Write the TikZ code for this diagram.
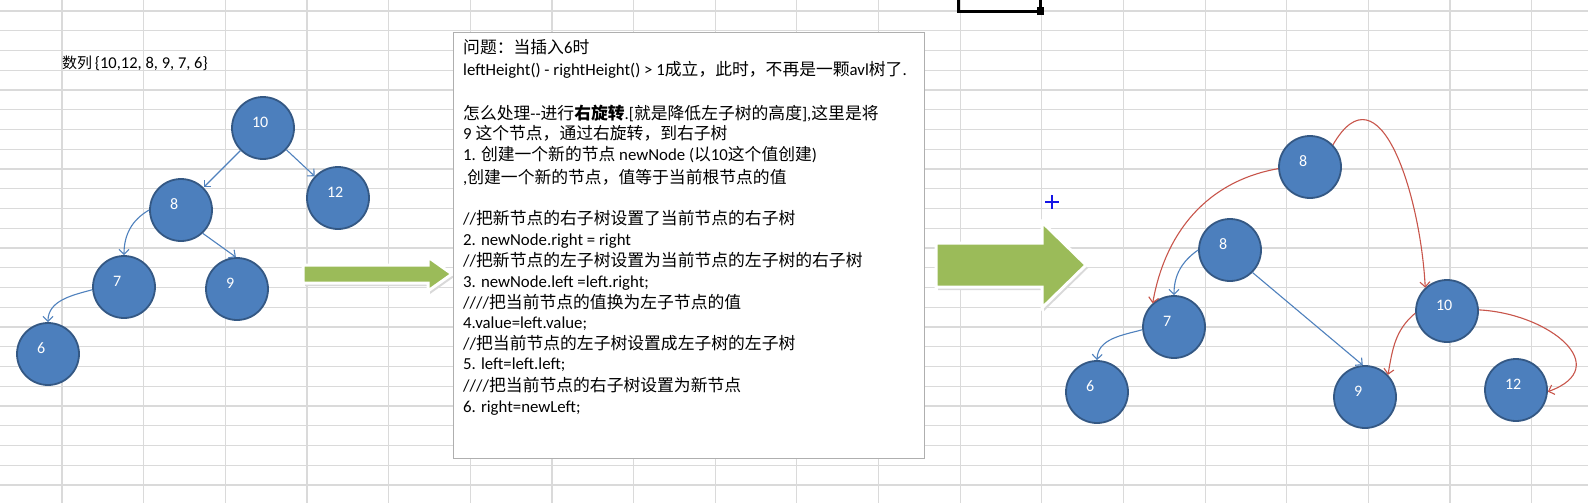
\documentclass[tikz,border=0pt]{standalone}
\usepackage{fontspec}
\setmainfont{Carlito}
\newfontfamily\cjk{Noto Sans CJK SC}
\usetikzlibrary{arrows.meta}
\definecolor{gridc}{RGB}{218,218,218}
\definecolor{nodefill}{RGB}{76,127,189}
\definecolor{nodeedge}{RGB}{52,88,132}
\definecolor{bluearr}{RGB}{79,129,189}
\definecolor{redarr}{RGB}{200,85,75}
\definecolor{greenarr}{RGB}{155,187,89}
\definecolor{boxedge}{RGB}{175,175,175}
\definecolor{plusblue}{RGB}{20,20,230}
\newcommand\zh[1]{{\cjk #1}}
\newcommand\lbl[1]{\makebox[0pt][l]{\hspace{-11pt}\raisebox{1pt}{#1}}}
\tikzset{
  circ/.style={circle, fill=nodefill, draw=nodeedge, line width=1.8pt, minimum size=62pt, inner sep=0pt,
    text=white, font=\fontsize{16}{18}\selectfont, text height=0pt, text depth=0pt},
  barr/.style={draw=bluearr, line width=1.1pt, -{Straight Barb[length=5pt,width=10pt]}},
  rarr/.style={draw=redarr, line width=1.1pt, -{Straight Barb[length=5pt,width=10pt]}},
  txtline/.style={anchor=base west, inner sep=0pt, font=\fontsize{16.8}{20}\selectfont},
  gridline/.style={draw=gridc, line width=1.2pt},
  fatarrow/.style={fill=greenarr, draw=white, line width=3pt, line join=miter,
    preaction={fill=black!15, transform canvas={xshift=2pt,yshift=-3pt}}}
}
\begin{document}
\begin{tikzpicture}[x=1pt,y=1pt]
\useasboundingbox (0,0) rectangle (1588,-503);
\fill[white] (0,0) rectangle (1588,-503);
% grid
\foreach \i in {0,...,18} \draw[gridline] ({62+81.65*\i},0) -- ++(0,-503);
\foreach \j in {0,...,24} \draw[gridline] (0,{-11-19.75*\j}) -- ++(1588,0);
% selected cell
\draw[black, line width=3pt] (958,0) -- (958,-11.5) -- (1040,-11.5) -- (1040,0);
\fill[black] (1036.5,-7.5) rectangle (1044,-15);
% blue plus
\draw[plusblue, line width=2.6pt] (1045,-202) -- (1059,-202) (1052,-195) -- (1052,-209);
% title
\node[anchor=base west, inner sep=0pt, font=\fontsize{16.5}{18}\selectfont] (title) at (62,-69)
  {{\cjk\fontsize{15}{18}\selectfont 数列}\,\{10,12, 8, 9, 7, 6\}};
% green arrows
\draw[fatarrow] (303,-265) -- (428,-265) -- (428,-257) -- (452,-274) -- (428,-291) -- (428,-283) -- (303,-283) -- cycle;
\draw[fatarrow] (936,-243) -- (1042,-243) -- (1042,-222) -- (1086,-265) -- (1042,-308) -- (1042,-287) -- (936,-287) -- cycle;
% text box
\node[draw=boxedge, fill=white, line width=1.3pt, minimum width=471pt, minimum height=426pt,
  anchor=north west, inner sep=0pt] (tbox) at (453,-32) {};
\node[txtline] (t1) at (463,-54) {\zh{问题：当插入}6\zh{时}};
\node[txtline] (t2) at (463,-76) {leftHeight() - rightHeight() > 1\zh{成立，此时，不再是一颗}avl\zh{树了}.};
\node[txtline] (t3) at (463,-119) {\zh{怎么处理}-{}-\zh{进行}{\cjk\bfseries 右旋转}.[\zh{就是降低左子树的高度}],\zh{这里是将}};
\node[txtline] (t4) at (463,-139) {9 \zh{这个节点，通过右旋转，到右子树}};
\node[txtline] (t5) at (463,-160) {1. \zh{创建一个新的节点} newNode (\zh{以}10\zh{这个值创建})};
\node[txtline] (t6) at (463,-183) {,\zh{创建一个新的节点，值等于当前根节点的值}};
\node[txtline] (t7) at (463,-224) {//\zh{把新节点的右子树设置了当前节点的右子树}};
\node[txtline] (t8) at (463,-245) {2. newNode.right = right};
\node[txtline] (t9) at (463,-266) {//\zh{把新节点的左子树设置为当前节点的左子树的右子树}};
\node[txtline] (t10) at (463,-287) {3. newNode.left =left.right;};
\node[txtline] (t11) at (463,-308) {////\zh{把当前节点的值换为左子节点的值}};
\node[txtline] (t12) at (463,-328) {4.value=left.value;};
\node[txtline] (t13) at (463,-349) {//\zh{把当前节点的左子树设置成左子树的左子树}};
\node[txtline] (t14) at (463,-369) {5. left=left.left;};
\node[txtline] (t15) at (463,-391) {////\zh{把当前节点的右子树设置为新节点}};
\node[txtline] (t16) at (463,-412) {6. right=newLeft;};
% left tree
\node[circ] (L10) at (263,-128) {\lbl{10}};
\node[circ] (L12) at (338,-198) {\lbl{12}};
\node[circ] (L8) at (181,-210) {\lbl{8}};
\node[circ] (L7) at (124,-287) {\lbl{7}};
\node[circ] (L9) at (237,-289) {\lbl{9}};
\node[circ] (L6) at (48,-354) {\lbl{6}};
\draw[barr] (L10) -- (L8);
\draw[barr] (L10) -- (L12);
\draw[barr] (L8.180) to[out=210,in=90] (L7.90);
\draw[barr] (L8.-47) -- (L9.92);
\draw[barr] (L7.185) to[out=195,in=90] (L6.90);
% right tree
\node[circ] (R8t) at (1310,-167) {\lbl{8}};
\node[circ] (R8m) at (1230,-250) {\lbl{8}};
\node[circ] (R7) at (1174,-327) {\lbl{7}};
\node[circ] (R6) at (1097,-392) {\lbl{6}};
\node[circ] (R9) at (1365,-397) {\lbl{9}};
\node[circ] (R10) at (1447,-311) {\lbl{10}};
\node[circ] (R12) at (1516,-390) {\lbl{12}};
\draw[rarr] (R8t.183) to[out=190,in=80] (R7.132);
\draw[rarr] (R8t.44) to[out=60,in=93,looseness=1.4] (R10.133);
\draw[rarr] (R10.184) to[out=220,in=80] (R9.44);
\draw[rarr] (R10.2) to[out=-3,in=20,looseness=1.7] (R12.-3);
\draw[barr] (R8m.180) to[out=215,in=90] (R7.90);
\draw[barr] (R7.185) to[out=195,in=88] (R6.90);
\draw[barr] (R8m.-45) -- (R9.94);
\end{tikzpicture}
\end{document}
